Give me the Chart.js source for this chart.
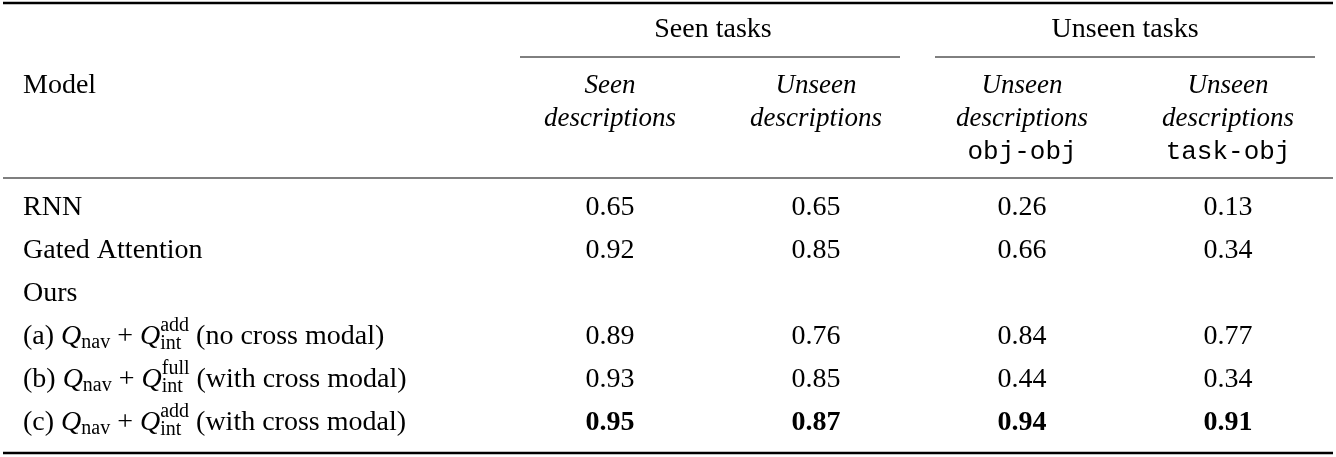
<!DOCTYPE html>
<html><head><meta charset="utf-8">
<script src="https://cdn.jsdelivr.net/npm/chart.js@4"></script>
<style>html,body{margin:0;padding:0;background:#fff}#w{width:1336px;height:457px}</style>
</head><body><div id="w"><canvas id="c"></canvas></div>
<script>
const groupHeaders = ['Seen tasks', 'Unseen tasks'];
const columnHeaders = [['Seen','descriptions'],['Unseen','descriptions'],['Unseen','descriptions','obj-obj'],['Unseen','descriptions','task-obj']];
const rowLabels = ['RNN','Gated Attention','Ours','(a)','(b)','(c)'];
const seenSeen = [0.65, 0.92, null, 0.89, 0.93, 0.95];
const seenUnseen = [0.65, 0.85, null, 0.76, 0.85, 0.87];
const unseenObjObj = [0.26, 0.66, null, 0.84, 0.44, 0.94];
const unseenTaskObj = [0.13, 0.34, null, 0.77, 0.34, 0.91];
const boldRow = 5;

const cols = [seenSeen, seenUnseen, unseenObjObj, unseenTaskObj];
const datasets = cols.map((arr, ci) => ({
  data: arr.map((v, ri) => ({x: ci + 1, y: ri, v})).filter(p => p.v !== null),
  pointRadius: 0, showLine: false
}));

const SERIF = '"Liberation Serif","DejaVu Serif",serif';
const MONO = '"Liberation Mono","DejaVu Sans Mono",monospace';

function rich(ctx, x, y, segs) {
  for (const s of segs) {
    if (s.stack) {
      let w = 0;
      for (const p of s.stack) { ctx.font = p.font; ctx.fillText(p.t, x, y + p.dy); w = Math.max(w, ctx.measureText(p.t).width); }
      x += w;
    } else {
      ctx.font = s.font; ctx.fillText(s.t, x, y + (s.dy || 0)); x += ctx.measureText(s.t).width;
    }
  }
}
const N = '28px ' + SERIF, I = 'italic 28px ' + SERIF, S = '20px ' + SERIF;
function formula(prefix, sup, tail) {
  return [{t: prefix + ' ', font: N}, {t: 'Q', font: I}, {t: 'nav', font: S, dy: 6},
    {t: ' + ', font: N}, {t: 'Q', font: I},
    {stack: [{t: sup, font: S, dy: -11}, {t: 'int', font: S, dy: 7}]}, {t: ' ' + tail, font: N}];
}
const rowSegs = [
  [{t: 'RNN', font: N}], [{t: 'Gated Attention', font: N}], [{t: 'Ours', font: N}],
  formula('(a)', 'add', '(no cross modal)'), formula('(b)', 'full', '(with cross modal)'), formula('(c)', 'add', '(with cross modal)')
];

const tablePlugin = {
  id: 'table',
  afterDatasetsDraw(chart) {
    const ctx = chart.ctx, xs = chart.scales.x, ys = chart.scales.y;
    ctx.save();
    ctx.fillStyle = '#000'; ctx.strokeStyle = '#000';
    ctx.textBaseline = 'middle';
    const hl = (x1, x2, y, w) => { ctx.lineWidth = w; ctx.beginPath(); ctx.moveTo(x1, y); ctx.lineTo(x2, y); ctx.stroke(); };
    hl(3, 1333, 3, 2.5); hl(3, 1333, 178, 1.2); hl(3, 1333, 453, 2.5);
    hl(520, 900, 57, 1); hl(935, 1315, 57, 1);
    ctx.textAlign = 'center'; ctx.font = N;
    ctx.fillText(groupHeaders[0], xs.getPixelForValue(1.5), 30);
    ctx.fillText(groupHeaders[1], xs.getPixelForValue(3.5), 30);
    columnHeaders.forEach((lines, ci) => {
      const x = xs.getPixelForValue(ci + 1);
      lines.forEach((t, li) => {
        ctx.font = li === 2 ? '26px ' + MONO : 'italic 27px ' + SERIF;
        ctx.fillText(t, x, 86 + li * 33);
      });
    });
    ctx.textAlign = 'left'; ctx.font = N;
    ctx.fillText('Model', 23, 86);
    rowLabels.forEach((_, ri) => rich(ctx, 23, ys.getPixelForValue(ri), rowSegs[ri]));
    ctx.textAlign = 'center';
    chart.data.datasets.forEach((ds, di) => {
      const meta = chart.getDatasetMeta(di);
      ds.data.forEach((p, i) => {
        const el = meta.data[i];
        if (!el) return;
        ctx.font = (p.y === boldRow ? 'bold ' : '') + N;
        ctx.fillText(p.v.toFixed(2), el.x, el.y);
      });
    });
    ctx.restore();
  }
};

new Chart(document.getElementById('c'), {
  type: 'scatter',
  data: {datasets},
  options: {
    responsive: true, maintainAspectRatio: false, animation: false,
    layout: {padding: 0},
    plugins: {legend: {display: false}, tooltip: {enabled: false}},
    scales: {
      x: {type: 'linear', display: false, min: -1.961, max: 4.524},
      y: {type: 'linear', display: false, reverse: true, min: -4.837, max: 5.791}
    }
  },
  plugins: [tablePlugin]
});
</script></body></html>
